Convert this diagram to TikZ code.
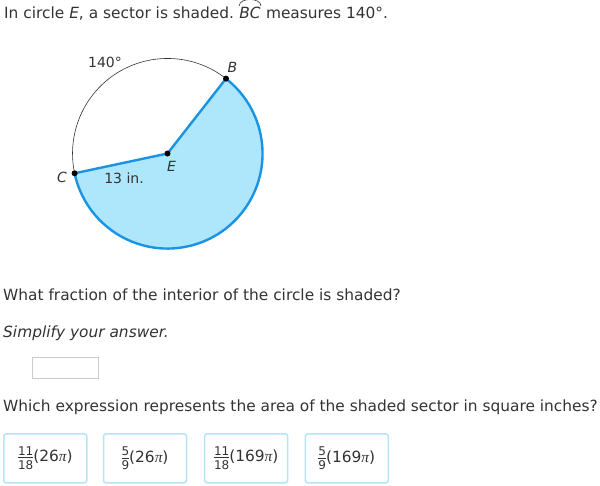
\documentclass[tikz,border=0pt]{standalone}
\usepackage{fontspec}
\setmainfont{DejaVu Sans}
\newfontfamily\pifont{Liberation Serif}
\usetikzlibrary{positioning}
\definecolor{inkgray}{HTML}{333333}
\definecolor{sectorfill}{HTML}{AEE6FC}
\definecolor{sectorline}{HTML}{1A94E2}
\definecolor{choiceline}{HTML}{B5E3F7}
\definecolor{boxline}{HTML}{CCCCCC}
\newcommand{\frc}[2]{{\fontsize{12}{13}\selectfont\lower7.2pt\vbox{\offinterlineskip\halign{\hfil##\hfil\cr#1\cr\noalign{\kern1.5pt\hrule height 0.8pt\kern2pt}#2\cr}}}}
\newcommand{\ppi}{{\pifont\itshape π}}

\begin{document}
\begin{tikzpicture}[x=1pt,y=1pt]
        \tikzstyle{every node}+=[inner sep=0pt, text=inkgray, font=\fontsize{15.4}{18}\selectfont]
        \tikzstyle{lbl}=[font=\fontsize{14}{16}\selectfont]
        \tikzstyle{pt}=[circle, fill=black, minimum size=6pt]
        \tikzstyle{choice}=[draw=choiceline, line width=1.5pt, rounded corners=2.5pt, minimum width=83pt, minimum height=49pt]
        \useasboundingbox (0,0) rectangle (600,-485);
        % question text
        \node[anchor=base west] (q1) at (4,-18) {In circle \textit{E}, a sector is shaded.};
        \node[anchor=base west] (bc) at ([xshift=4.9pt]q1.base east) {\textit{BC}};
        \node[anchor=base west] (q2) at ([xshift=4.9pt]bc.base east) {measures 140°.};
        \draw [inkgray, line width=0.6pt] ([yshift=0.5pt]bc.north west) .. controls ([yshift=9pt]bc.north west) and ([yshift=9pt]bc.north east) .. ([yshift=0.5pt]bc.north east);
        % circle E
        \coordinate (E) at (167.5,-153.5);
        \coordinate (B) at (226,-78.6);
        \coordinate (C) at (74.6,-173.3);
        \fill [sectorfill] (C) arc[start angle=192, end angle=412, radius=95] -- (E) -- cycle;
        \draw [inkgray, line width=0.6pt] (B) arc[start angle=52, end angle=192, radius=95];
        \draw [sectorline, line width=2.4pt, line join=round] (B) -- (E) -- (C) arc[start angle=192, end angle=412, radius=95];
        \node[pt] (e) at (E) {};
        \node[pt] (b) at (B) {};
        \node[pt] (c) at (C) {};
        \node[lbl] (lblE) at (171.5,-166) {\textit{E}};
        \node[lbl] (lblB) at (232.5,-67.5) {\textit{B}};
        \node[lbl] (lblC) at (62,-177) {\textit{C}};
        \node[lbl] (deg) at (105,-62) {140°};
        \node[lbl] (rad) at (124,-178) {13 in.};
        % part 1
        \node[anchor=base west] (q3) at (3,-300) {What fraction of the interior of the circle is shaded?};
        \node[anchor=base west] (q4) at (3,-337) {\textit{Simplify your answer.}};
        \node[draw=boxline, line width=0.8pt, minimum width=66pt, minimum height=21pt] (ans) at (65,-368) {};
        % part 2
        \node[anchor=base west] (q5) at (3,-411.5) {Which expression represents the area of the shaded sector in square inches?};
        \node[choice] (ch1) at (45.3,-458.3) {\frc{11}{18}(26\ppi)};
        \node[choice] (ch2) at (145,-458.3) {\frc{5}{9}(26\ppi)};
        \node[choice] (ch3) at (246.2,-458.3) {\frc{11}{18}(169\ppi)};
        \node[choice] (ch4) at (346.8,-458.3) {\frc{5}{9}(169\ppi)};
\end{tikzpicture}
\end{document}
